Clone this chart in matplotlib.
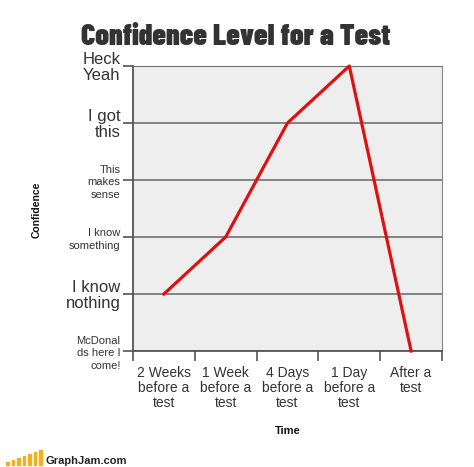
import matplotlib
matplotlib.use("Agg")
import matplotlib.pyplot as plt
from matplotlib.patches import Rectangle

categories = ["2 Weeks\nbefore a\ntest", "1 Week\nbefore a\ntest", "4 Days\nbefore a\ntest",
              "1 Day\nbefore a\ntest", "After a\ntest"]
confidence = [1, 2, 4, 5, 0]
level_labels = ["McDonal\nds here I\ncome!", "I know\nnothing", "I know\nsomething",
                "This\nmakes\nsense", "I got\nthis", "Heck\nYeah"]
level_sizes = [8, 12, 8, 8, 12, 12]

plt.rcParams['font.family'] = ['Liberation Sans', 'DejaVu Sans']

fig = plt.figure(figsize=(4.74, 4.67), dpi=100)
ax = fig.add_axes([133 / 474, 1 - 351 / 467, 309 / 474, 285 / 467])
ax.set_facecolor("#eeeeee")

xs = [i + 0.5 for i in range(len(categories))]
ax.plot(xs, confidence, color="#dd1111", lw=2.3, clip_on=False, zorder=3)

ax.set_xlim(0, len(categories))
ax.set_ylim(0, len(level_labels) - 1)

# boundaries get the tick marks, centers get the labels
ax.set_xticks(range(len(categories) + 1))
ax.set_xticklabels([])
ax.set_xticks(xs, minor=True)
ax.set_xticklabels(categories, minor=True, fontsize=10, color="#333333", linespacing=1.12)
ax.tick_params(axis="x", which="minor", length=0, pad=10.5)
ax.tick_params(axis="x", which="major", length=7, width=1.2, color="#555555")

ax.set_yticks(range(len(level_labels)))
ax.set_yticklabels(level_labels, color="#333333")
for lab, fs in zip(ax.get_yticklabels(), level_sizes):
    lab.set_fontsize(fs)
    lab.set_linespacing(1.35 if fs < 10 else 1.05)
ax.tick_params(axis="y", length=7, width=1.2, color="#555555", pad=2)

ax.grid(axis="y", color="#707070", lw=1.2)
ax.set_axisbelow(True)
for side in ["left", "bottom"]:
    ax.spines[side].set_color("#555555")
    ax.spines[side].set_linewidth(1.3)
ax.spines["top"].set_color("#707070")
ax.spines["right"].set_color("#888888")

fig.text(236 / 474, 1 - 37 / 467, "Confidence Level for a Test", ha="center", va="center",
         fontsize=21.5, fontweight=900, color="#333333",
         family=["Barlow Condensed", "Roboto Condensed", "DejaVu Sans"])
fig.text(37 / 474, 1 - 210 / 467, "Confidence", rotation=90, ha="center", va="center",
         fontsize=7.5, fontweight="bold", color="#111111")
fig.text(288 / 474, 1 - 431 / 467, "Time", ha="center", va="center",
         fontsize=8, fontweight="bold", color="#111111")

# GraphJam logo
bar_h = [3, 5, 7, 9, 11, 13, 15]
for i, h in enumerate(bar_h):
    fig.patches.append(Rectangle(((6 + i * 5.5) / 474, (467 - 465) / 467), 2.5 / 474, h / 467,
                                 transform=fig.transFigure, color="#f0b020"))
fig.text(46 / 474, 1 - 461 / 467, "GraphJam.com", ha="left", va="center",
         fontsize=8, fontweight="bold", color="#222222")

fig.savefig("out.png", dpi=100)
